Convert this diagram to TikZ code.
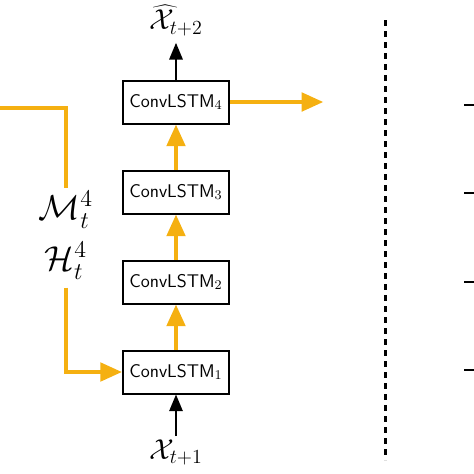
\documentclass[tikz,border=0pt]{standalone}
\usetikzlibrary{arrows.meta,positioning}
\definecolor{lstmorange}{RGB}{245,176,17}
\begin{document}
\begin{tikzpicture}[
  x=0.6pt, y=-0.6pt,
  node distance=27pt,
  lstm/.style={draw, line width=1.2pt, minimum width=63.6pt, minimum height=25.8pt, inner sep=0pt, font=\sffamily\fontsize{11}{13}\selectfont},
  flow/.style={draw=lstmorange, line width=2.4pt, -{Triangle[length=13pt,width=11pt]}},
  wire/.style={draw=lstmorange, line width=2.4pt},
  io/.style={draw, line width=1.2pt, -{Triangle[length=10pt,width=8pt]}},
  lbl/.style={font=\fontsize{18}{22}\selectfont, inner sep=2pt},
  state/.style={font=\fontsize{20}{24}\selectfont, text height=13pt, text depth=4pt, inner ysep=6pt, inner xsep=2pt}
  ]
  \useasboundingbox (0,0) rectangle (474,474);
  % stack of cells
  \node[lstm] (c1) at (176,372) {ConvLSTM$_1$};
  \node[lstm, above=of c1] (c2) {ConvLSTM$_2$};
  \node[lstm, above=of c2] (c3) {ConvLSTM$_3$};
  \node[lstm, above=of c3] (c4) {ConvLSTM$_4$};
  \node[lbl, inner ysep=4pt, above=22pt of c4] (yhat) {$\widehat{\mathcal{X}}_{t+2}$};
  \node[lbl, below=25pt of c1] (xin) {$\mathcal{X}_{t+1}$};
  \draw[io] (xin) -- (c1);
  \draw[io] (c4) -- (yhat);
  \draw[flow] (c1) -- (c2);
  \draw[flow] (c2) -- (c3);
  \draw[flow] (c3) -- (c4);
  % states passed on
  \coordinate[right=56pt of c4.east] (out);
  \draw[flow] (c4.east) -- (out);
  \coordinate (in) at (0,108);
  \node[state] (m4) at (66,212) {$\mathcal{M}_t^4$};
  \node[state] (h4) at (66,263) {$\mathcal{H}_t^4$};
  \draw[wire] (in) -| (m4);
  \draw[flow] (h4) |- (c1);
  % divider and next panel
  \draw[line width=1.8pt, dash pattern=on 3.6pt off 3pt] (385,20) -- (385,460);
  \foreach \y in {105,193,282,370}
    \draw[line width=1.2pt] (464,\y) -- (474,\y);
\end{tikzpicture}
\end{document}
